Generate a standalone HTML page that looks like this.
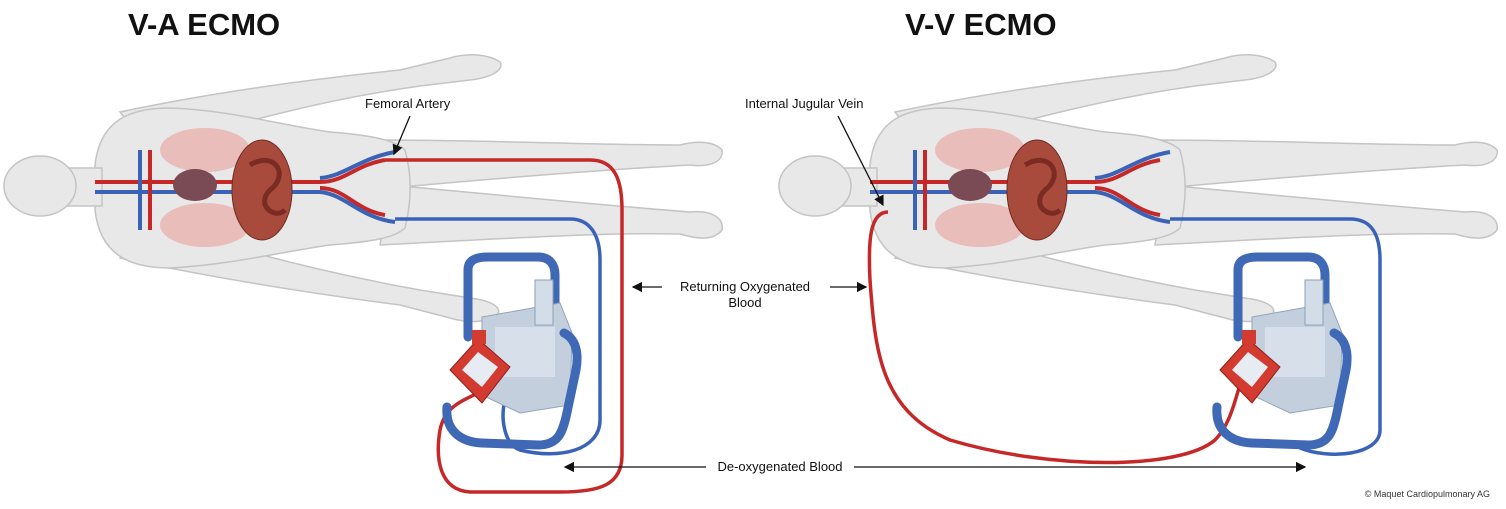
<!DOCTYPE html>
<html><head><meta charset="utf-8"><style>
html,body{margin:0;padding:0;background:#fff;}
svg{display:block;font-family:"Liberation Sans",sans-serif;}
</style></head><body>
<svg width="1506" height="509" viewBox="0 0 1506 509" xmlns="http://www.w3.org/2000/svg">
<defs>
<marker id="ah" markerWidth="8" markerHeight="8" refX="7" refY="4" orient="auto"><path d="M0,0 L8,4 L0,8 z" fill="#111"/></marker>
<g id="body">
  <g fill="#e8e8e8" stroke="#c4c4c4" stroke-width="1.5">
    <path d="M120,112 C200,95 300,80 400,70 L450,58 C470,52 490,55 500,62 C505,70 490,78 470,80 L420,86 C320,100 230,125 150,150 Z"/>
    <path d="M120,258 C200,275 300,292 400,305 L450,318 C470,324 490,322 498,314 C502,306 488,300 470,298 L420,290 C320,272 230,248 150,222 Z"/>
    <path d="M380,140 C480,140 600,145 680,145 C700,140 715,142 722,150 C724,160 712,168 690,165 C600,170 500,178 390,188 Z"/>
    <path d="M390,185 C500,195 600,205 690,212 C712,210 724,218 722,230 C714,240 700,240 680,234 C600,232 480,240 380,245 Z"/>
    <path d="M95,165 C100,120 130,108 170,108 C230,110 280,125 330,132 C370,135 395,140 405,150 C412,175 412,200 405,228 C395,238 370,242 330,245 C280,252 230,265 170,268 C130,268 100,255 95,210 Z"/>
    <rect x="66" y="168" width="36" height="38"/>
    <ellipse cx="40" cy="186" rx="36" ry="30"/>
  </g>
  <ellipse cx="205" cy="150" rx="45" ry="22" fill="#e9b8b4" opacity="0.9"/>
  <ellipse cx="205" cy="225" rx="45" ry="22" fill="#e9b8b4" opacity="0.9"/>
  <g stroke-width="4" fill="none">
    <path d="M95,182 L320,182 C345,182 355,165 385,160" stroke="#c62828"/>
    <path d="M320,188 C345,188 355,210 385,215" stroke="#c62828"/>
    <path d="M95,192 L320,192 C345,194 360,218 395,222" stroke="#3a63b8"/>
    <path d="M320,178 C345,176 360,158 395,152" stroke="#3a63b8"/>
    <path d="M140,150 L140,230" stroke="#3a63b8"/>
    <path d="M150,150 L150,230" stroke="#c62828"/>
  </g>
  <ellipse cx="195" cy="185" rx="22" ry="16" fill="#7a4a55"/>
  <ellipse cx="262" cy="190" rx="30" ry="50" fill="#a84a3c" stroke="#6e2c22"/>
  <path d="M250,165 C275,150 290,175 270,190 C255,205 275,220 285,210" stroke="#7a2c22" stroke-width="5" fill="none"/>
</g>
<g id="ecmo">
  <path d="M8,82 L8,15 C8,5 16,2 28,2 L78,2 C90,2 95,10 95,20 L95,70" stroke="#3f68b5" stroke-width="9" fill="none" stroke-linecap="round"/>
  <polygon points="22,62 100,48 112,78 110,150 60,158 22,140" fill="#c3cfdd" stroke="#93a4ba"/>
  <rect x="35" y="72" width="60" height="50" fill="#d6dfea"/>
  <rect x="75" y="25" width="18" height="45" fill="#d3dde8" stroke="#8ea1b8"/>
  <path d="M-13,152 C-15,175 0,187 22,188 L78,190 C98,190 102,178 106,162 L116,115 C119,98 116,84 104,78" stroke="#3f68b5" stroke-width="9" fill="none" stroke-linecap="round"/>
  <polygon points="-10,115 18,84 50,112 22,148" fill="#d33a30" stroke="#8e1f18"/>
  <polygon points="2,115 18,97 38,112 22,132" fill="#e7ecf2"/>
  <rect x="12" y="75" width="14" height="14" fill="#d33a30"/>
</g>
</defs>

<text x="128" y="35" font-size="31" font-weight="bold" fill="#111">V-A ECMO</text>
<text x="905" y="35" font-size="31" font-weight="bold" fill="#111">V-V ECMO</text>

<use href="#body" x="0" y="0"/>
<use href="#body" x="775" y="0"/>

<path d="M385,160 L590,160 C615,160 622,180 622,210 L622,455 C622,485 600,492 560,492 L470,492 C440,490 435,460 440,430 C445,405 465,400 480,392" stroke="#c62828" stroke-width="3.5" fill="none"/>
<path d="M395,219 L570,219 C590,219 600,235 600,260 L600,420 C600,450 560,460 520,450 C505,445 500,420 505,400" stroke="#3a63b8" stroke-width="3.5" fill="none"/>
<use href="#ecmo" x="460" y="255"/>

<path d="M888,212 C870,212 868,240 870,280 C875,350 880,410 950,440 C1050,470 1180,470 1215,440 C1230,425 1235,400 1240,385" stroke="#c62828" stroke-width="3.5" fill="none"/>
<path d="M1170,219 L1350,219 C1372,219 1380,235 1380,260 L1380,430 C1380,455 1330,460 1300,448" stroke="#3a63b8" stroke-width="3.5" fill="none"/>
<use href="#ecmo" x="1230" y="255"/>

<g font-size="13" fill="#111">
  <text x="365" y="108">Femoral Artery</text>
  <text x="745" y="108">Internal Jugular Vein</text>
  <text x="745" y="291" text-anchor="middle">Returning Oxygenated</text>
  <text x="745" y="307" text-anchor="middle">Blood</text>
  <text x="780" y="471" text-anchor="middle">De-oxygenated Blood</text>
  <text x="1490" y="497" font-size="9" text-anchor="end" fill="#333">© Maquet Cardiopulmonary AG</text>
</g>
<g stroke="#111" stroke-width="1.3" fill="none" marker-end="url(#ah)">
  <line x1="410" y1="116" x2="394" y2="154"/>
  <line x1="838" y1="116" x2="883" y2="205"/>
  <line x1="662" y1="287" x2="633" y2="287"/>
  <line x1="830" y1="287" x2="866" y2="287"/>
  <line x1="706" y1="467" x2="565" y2="467"/>
  <line x1="854" y1="467" x2="1305" y2="467"/>
</g>
</svg>
</body></html>
